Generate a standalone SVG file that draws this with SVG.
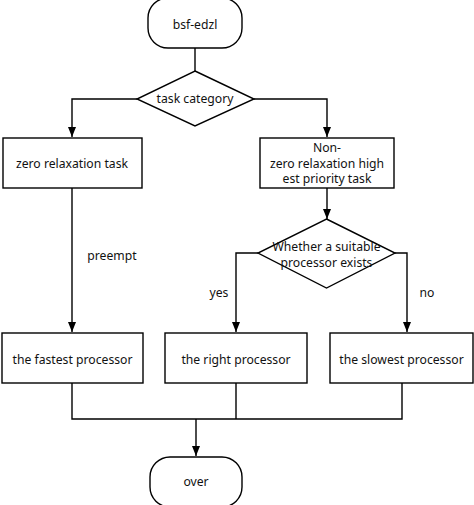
<svg xmlns="http://www.w3.org/2000/svg" width="474" height="505" viewBox="0 0 474 505">
<style>
.s{fill:#fff;stroke:#000;stroke-width:1.4}
.c{fill:none;stroke:#000;stroke-width:1.4}
text{font-family:"Noto Sans","Open Sans","Liberation Sans",sans-serif;font-size:12.2px;fill:#111;text-anchor:middle;dominant-baseline:central}
</style>
<defs>
<marker id="a" viewBox="0 0 10 10" refX="10" refY="5" markerWidth="10" markerHeight="10" markerUnits="userSpaceOnUse" orient="auto">
<path d="M0,1 L10,5 L0,9 Z" fill="#000"/>
</marker>
</defs>
<rect width="474" height="505" fill="#fff"/>
<g id="connectors">
<path class="c" d="M195,48 V71"/>
<path class="c" d="M137,99 H72 V137" marker-end="url(#a)"/>
<path class="c" d="M254,99 H327 V137" marker-end="url(#a)"/>
<path class="c" d="M72,188 V332" marker-end="url(#a)"/>
<path class="c" d="M327,188 V219" marker-end="url(#a)"/>
<path class="c" d="M258,253 H236 V332" marker-end="url(#a)"/>
<path class="c" d="M395,253 H407 V332" marker-end="url(#a)"/>
<path class="c" d="M72,383 V419 H402 V383 M236,383 V419"/>
<path class="c" d="M196,419 V456" marker-end="url(#a)"/>
<text x="112" y="255">preempt</text>
<text x="219" y="292">yes</text>
<text x="427" y="292">no</text>
</g>
<g id="start"><rect class="s" x="148" y="-2" width="94" height="50" rx="20"/><text x="195" y="24">bsf-edzl</text></g>
<g id="category"><polygon class="s" points="195,71 254,99 195,126 137,99"/><text x="195" y="98">task category</text></g>
<g id="zero"><rect class="s" x="3" y="138" width="139" height="50"/><text x="72" y="163">zero relaxation task</text></g>
<g id="nonzero"><rect class="s" x="260" y="138" width="134" height="50"/><text x="327" y="147.5">Non-</text><text x="327" y="163">zero relaxation high</text><text x="327" y="178.5">est priority task</text></g>
<g id="suitable"><polygon class="s" points="326.5,219 395,253 326.5,288 258,253"/><text x="326.5" y="246">Whether a suitable</text><text x="326.5" y="262">processor exists</text></g>
<g id="fastest"><rect class="s" x="2" y="333" width="141" height="50"/><text x="72.5" y="359">the fastest processor</text></g>
<g id="right"><rect class="s" x="165" y="333" width="142" height="50"/><text x="236" y="359">the right processor</text></g>
<g id="slowest"><rect class="s" x="330" y="333" width="143" height="50"/><text x="401.5" y="359">the slowest processor</text></g>
<g id="over"><rect class="s" x="150" y="457" width="92" height="50" rx="20"/><text x="196" y="481">over</text></g>
</svg>
